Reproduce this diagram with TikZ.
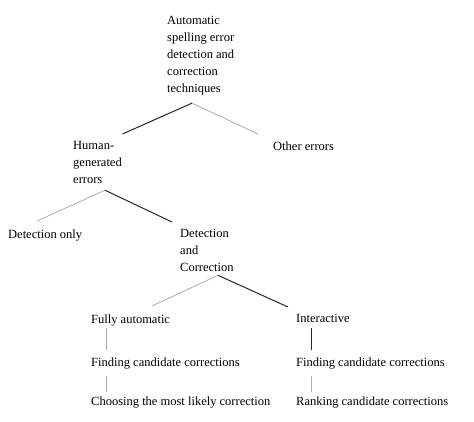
\documentclass[tikz,border=0pt]{standalone}
\usepackage{fontspec}
\setmainfont{Liberation Serif}
\tikzset{
  treetext/.style={anchor=north west, inner sep=0pt, align=left, font=\fontsize{12.5}{17}\selectfont},
  darkline/.style={line width=1pt, black!85},
  lightline/.style={line width=0.8pt, gray!65},
}
\begin{document}
\begin{tikzpicture}[x=1pt,y=1pt]
  \useasboundingbox[fill=white] (0,0) rectangle (474,-421);
  % Ebenen der Taxonomie
  \node[treetext] (root) at (167,-16.5) {Automatic\\spelling error\\detection and\\correction\\techniques};
  \node[treetext] (human) at (73,-141.5) {Human-\\generated\\errors};
  \node[treetext] (other) at (273,-141.5) {Other errors};
  \node[treetext] (detonly) at (8,-229.5) {Detection only};
  \node[treetext] (detcorr) at (180,-229.5) {Detection\\and\\Correction};
  \node[treetext] (fullauto) at (91,-314.5) {Fully automatic};
  \node[treetext] (interact) at (296,-314.5) {Interactive};
  \node[treetext] (findA) at (91,-357.5) {Finding candidate corrections};
  \node[treetext] (findB) at (296,-357.5) {Finding candidate corrections};
  \node[treetext] (choose) at (91,-396.5) {Choosing the most likely correction};
  \node[treetext] (rank) at (296,-396.5) {Ranking candidate corrections};

  % Verzweigungen
  \draw[darkline] ([shift={(25,-7.3)}]root.south west) -- ([shift={(0.5,7.5)}]human.north east);
  \draw[lightline] ([shift={(25,-7.3)}]root.south west) -- ([shift={(-15,7.5)}]other.north west);
  \draw[lightline] ([shift={(32,-6)}]human.south west) -- ([shift={(29,8.5)}]detonly.north west);
  \draw[darkline] ([shift={(32,-6)}]human.south west) -- ([shift={(-8,7.5)}]detcorr.north west);
  \draw[lightline] ([shift={(38,-3)}]detcorr.south west) -- ([shift={(61,8.5)}]fullauto.north west);
  \draw[darkline] ([shift={(38,-3)}]detcorr.south west) -- ([shift={(-8,7.5)}]interact.north west);

  % Schritte
  \draw[lightline] ([shift={(15,-1.5)}]fullauto.south west) -- ([shift={(15,7.5)}]findA.north west);
  \draw[lightline] ([shift={(15,-6.3)}]findA.south west) -- ([shift={(15,4.5)}]choose.north west);
  \draw[darkline] ([shift={(15,-5)}]interact.south west) -- ([shift={(15,7.5)}]findB.north west);
  \draw[lightline] ([shift={(15,-6.3)}]findB.south west) -- ([shift={(15,4.5)}]rank.north west);
\end{tikzpicture}
\end{document}
